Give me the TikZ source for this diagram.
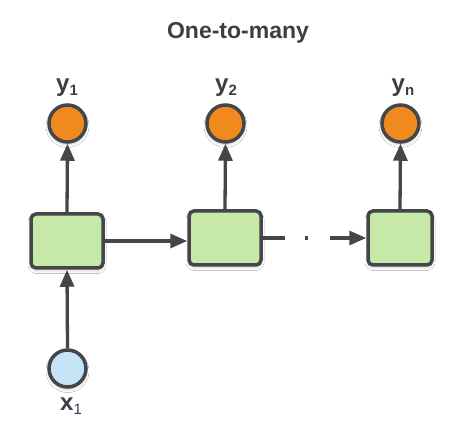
\documentclass[tikz,border=0pt]{standalone}
\usepackage{fontspec}
\setmainfont{Liberation Sans}
\usetikzlibrary{arrows.meta,shadows.blur}
\definecolor{ink}{HTML}{3A3E46}
\definecolor{lineC}{HTML}{444649}
\definecolor{orangeF}{HTML}{F08A1E}
\definecolor{blueF}{HTML}{C6E3F7}
\definecolor{greenF}{HTML}{C6E8A8}
\newcommand{\lowsub}[1]{\raisebox{-3.5pt}{\fontsize{15}{15}\selectfont #1}}
\tikzset{
  softshadow/.style={blur shadow={shadow xshift=0pt,shadow yshift=-2.5pt,shadow opacity=18,shadow blur steps=6,shadow blur radius=3pt}},
  cell/.style={draw=lineC,line width=3.5pt,fill=greenF,rounded corners=5pt,minimum height=54pt,inner sep=0pt,softshadow},
  outnode/.style={circle,draw=lineC,line width=3.5pt,fill=orangeF,minimum size=37pt,inner sep=0pt,softshadow},
  innode/.style={circle,draw=lineC,line width=3.5pt,fill=blueF,minimum size=37pt,inner sep=0pt,softshadow},
  conn/.style={draw=lineC,line width=3.3pt,-{Triangle[width=14pt,length=17pt]}},
  lbl/.style={text=ink,font=\fontsize{24}{24}\bfseries\selectfont,inner sep=0pt,anchor=base},
}
\begin{document}
\begin{tikzpicture}[x=1pt,y=-1pt]
\useasboundingbox (0,0) rectangle (474,435);
\fill[white] (0,0) rectangle (474,435);
\node[text=ink,font=\fontsize{23}{23}\bfseries\selectfont,inner sep=0pt] (title) at (238,33) {One-to-many};

\node[cell,minimum width=72pt] (c1) at (67,241) {};
\node[cell,minimum width=72pt] (c2) at (225,238) {};
\node[cell,minimum width=64pt] (c3) at (400,238) {};

\node[outnode] (o1) at (67.5,123.5) {};
\node[outnode] (o2) at (225.5,123.5) {};
\node[outnode] (o3) at (400.5,123.5) {};
\node[innode] (i1) at (67.5,368.5) {};

\node[lbl] (l1) at (67,92) {y\lowsub{1}};
\node[lbl] (l2) at (226,92) {y\lowsub{2}};
\node[lbl] (l3) at (403,92) {y\lowsub{n}};
\node[lbl] (l4) at (71,411) {x{\mdseries\lowsub{1}}};

\draw[conn] (c1.north) -- (o1.south);
\draw[conn] (c2.north) -- (o2.south);
\draw[conn] (c3.north) -- (o3.south);
\draw[conn] (i1.north) -- (c1.south);
\draw[conn] (c1.east) -- (c1.east -| c2.west);
\draw[conn,dash pattern=on 22pt off 20pt on 3pt off 22pt on 80pt] (c2.east) -- (c3.west);
\end{tikzpicture}
\end{document}
